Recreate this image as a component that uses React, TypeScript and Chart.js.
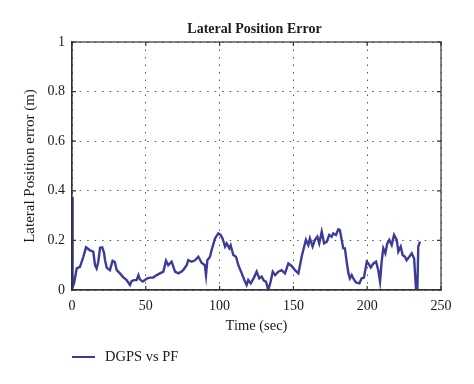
import React, { useEffect, useRef } from "react";
import { Chart, registerables } from "chart.js";

Chart.register(...registerables);

const chartTitle = "Lateral Position Error";
const xAxisTitle = "Time (sec)";
const yAxisTitle = "Lateral Position error (m)";
const seriesLabel = "DGPS vs PF";
const xTicks = [0, 50, 100, 150, 200, 250];
const yTicks = [0, 0.2, 0.4, 0.6, 0.8, 1];

const timeSec = [
  0, 0.4, 1.5, 3.2, 5.4, 7.7, 9.5, 12.2, 14.4, 15.6, 16.7, 17.8, 19, 20.5, 21.7, 22.4, 23.5, 25.7, 27.5, 29,
  30.3, 32.5, 34.8, 37, 39.3, 40.4, 42, 43.8, 45, 46, 47.9, 49.4, 51, 52.8, 55, 57.4, 59.6, 61.9, 63.7, 65.2,
  67.5, 69.8, 72, 74.3, 75.4, 77.7, 78.8, 81.1, 83.3, 85.6, 87.8, 90, 90.8, 91.7, 93.5, 94.6, 96.9, 99.1, 100.7, 102,
  103.7, 104.8, 106.6, 107.5, 109.3, 111.1, 112.7, 115, 117.2, 118.3, 119.4, 121.1, 123.3, 125.1, 126.9, 128.5, 130.1, 131.4, 133, 134.6,
  136, 137.6, 139.8, 142, 144.3, 146.6, 148.8, 151.1, 153.4, 155.6, 156.7, 158.5, 160.1, 161.2, 163, 164.6, 166.2, 167.5, 169.2, 170.8,
  172.6, 174.3, 175.9, 177, 178.8, 180.4, 181.5, 182.7, 183.8, 184.9, 186.1, 187.3, 188.3, 189.5, 190.6, 192.4, 194.7, 196.3, 197.8, 199.7,
  200.8, 202.4, 204.2, 206, 207.5, 208.7, 209.8, 210.9, 212.3, 213.6, 215, 216.6, 218.2, 220, 221.1, 222.7, 224, 225.6, 226.7, 228.5,
  230.2, 231.8, 233.1, 234, 234.6, 235.8,
];

const errorM = [
  0.375, 0.01, 0.03, 0.087, 0.093, 0.134, 0.172, 0.16, 0.155, 0.1, 0.087, 0.114, 0.17, 0.172, 0.15, 0.12, 0.09, 0.08, 0.118, 0.113,
  0.08, 0.067, 0.051, 0.04, 0.02, 0.036, 0.04, 0.04, 0.06, 0.043, 0.034, 0.04, 0.047, 0.05, 0.05, 0.06, 0.067, 0.074, 0.118, 0.1,
  0.114, 0.074, 0.067, 0.074, 0.081, 0.1, 0.12, 0.114, 0.12, 0.134, 0.11, 0.1, 0.06, 0.12, 0.134, 0.161, 0.208, 0.228, 0.222, 0.208,
  0.175, 0.188, 0.168, 0.18, 0.141, 0.134, 0.1, 0.067, 0.034, 0.02, 0.04, 0.027, 0.05, 0.074, 0.047, 0.054, 0.037, 0.034, 0.0, 0.034,
  0.074, 0.06, 0.074, 0.08, 0.067, 0.107, 0.097, 0.08, 0.067, 0.134, 0.161, 0.202, 0.181, 0.208, 0.175, 0.202, 0.215, 0.188, 0.235, 0.188,
  0.195, 0.222, 0.215, 0.228, 0.222, 0.245, 0.242, 0.202, 0.168, 0.168, 0.114, 0.067, 0.047, 0.06, 0.047, 0.03, 0.027, 0.047, 0.05, 0.114,
  0.107, 0.091, 0.107, 0.114, 0.08, 0.034, 0.114, 0.168, 0.148, 0.188, 0.202, 0.181, 0.222, 0.202, 0.155, 0.175, 0.141, 0.134, 0.12, 0.134,
  0.148, 0.127, 0, 0, 0.175, 0.195,
];

const FONT = "'Liberation Serif', 'DejaVu Serif', serif";
const LINE_COLOR = "#3b3b98";
const TEXT_COLOR = "#1a1a1a";

const decorPlugin = {
  id: "decor",
  afterDraw(chart: any) {
    const { ctx, chartArea } = chart;
    const { left, right, top, bottom } = chartArea;
    const xs = chart.scales.x;
    const ys = chart.scales.y;
    ctx.save();
    ctx.strokeStyle = "#333";
    ctx.lineWidth = 1.2;
    ctx.setLineDash([]);
    ctx.strokeRect(left, top, right - left, bottom - top);
    ctx.beginPath();
    xTicks.forEach((t) => {
      const px = xs.getPixelForValue(t);
      ctx.moveTo(px, bottom);
      ctx.lineTo(px, bottom - 4);
      ctx.moveTo(px, top);
      ctx.lineTo(px, top + 4);
    });
    yTicks.forEach((t) => {
      const py = ys.getPixelForValue(t);
      ctx.moveTo(left, py);
      ctx.lineTo(left + 4, py);
      ctx.moveTo(right, py);
      ctx.lineTo(right - 4, py);
    });
    ctx.stroke();
    ctx.fillStyle = TEXT_COLOR;
    ctx.font = `bold 14px ${FONT}`;
    ctx.textAlign = "center";
    ctx.textBaseline = "middle";
    ctx.fillText(chartTitle, (left + right) / 2 - 2, 29);
    const ly = 357;
    ctx.strokeStyle = LINE_COLOR;
    ctx.lineWidth = 2;
    ctx.beginPath();
    ctx.moveTo(72, ly);
    ctx.lineTo(95, ly);
    ctx.stroke();
    ctx.fillStyle = TEXT_COLOR;
    ctx.font = `14.5px ${FONT}`;
    ctx.textAlign = "left";
    ctx.fillText(chart.data.datasets[0].label, 105, ly);
    ctx.restore();
  },
};

export default function App() {
  const ref = useRef<HTMLCanvasElement>(null);
  useEffect(() => {
    if (!ref.current) return;
    const points = timeSec.map((t, i) => ({ x: t, y: errorM[i] }));
    const chart = new Chart(ref.current, {
      type: "line",
      data: {
        datasets: [
          {
            label: seriesLabel,
            data: points,
            borderColor: LINE_COLOR,
            backgroundColor: LINE_COLOR,
            borderWidth: 2.4,
            pointRadius: 0,
            tension: 0,
            fill: false,
          },
        ],
      },
      options: {
        animation: false,
        responsive: false,
        maintainAspectRatio: false,
        layout: { padding: { left: 0, right: 33, top: 42, bottom: 44 } },
        plugins: {
          legend: { display: false },
          title: { display: false },
          tooltip: { enabled: false },
        },
        scales: {
          x: {
            type: "linear",
            min: 0,
            max: 250,
            afterFit: (s: any) => {
              s.height = 50;
            },
            afterBuildTicks: (s: any) => {
              s.ticks = xTicks.map((v) => ({ value: v }));
            },
            ticks: {
              color: TEXT_COLOR,
              font: { family: FONT, size: 14 },
              padding: 8,
              maxRotation: 0,
            },
            grid: { color: "#555", lineWidth: 1, drawTicks: false },
            border: { color: "#333", width: 1.2, dash: [1.5, 6] },
            title: {
              display: true,
              text: xAxisTitle,
              color: TEXT_COLOR,
              font: { family: FONT, size: 14.5 },
              padding: { top: 0, bottom: 5 },
            },
          },
          y: {
            type: "linear",
            min: 0,
            max: 1,
            afterFit: (s: any) => {
              s.width = 72;
            },
            afterBuildTicks: (s: any) => {
              s.ticks = yTicks.map((v) => ({ value: v }));
            },
            ticks: {
              color: TEXT_COLOR,
              font: { family: FONT, size: 14 },
              padding: 7,
              callback: (v: any) => String(Math.round(Number(v) * 10) / 10),
            },
            grid: { color: "#555", lineWidth: 1, drawTicks: false },
            border: { color: "#333", width: 1.2, dash: [1.5, 6] },
            title: {
              display: true,
              text: yAxisTitle,
              color: TEXT_COLOR,
              font: { family: FONT, size: 15 },
              padding: { top: 21, bottom: 0 },
            },
          },
        },
      },
      plugins: [decorPlugin],
    });
    return () => chart.destroy();
  }, []);
  return (
    <div style={{ position: "fixed", left: 0, top: 0, width: 474, height: 384, background: "#fff" }}>
      <canvas ref={ref} width={474} height={384} style={{ display: "block" }} />
    </div>
  );
}
